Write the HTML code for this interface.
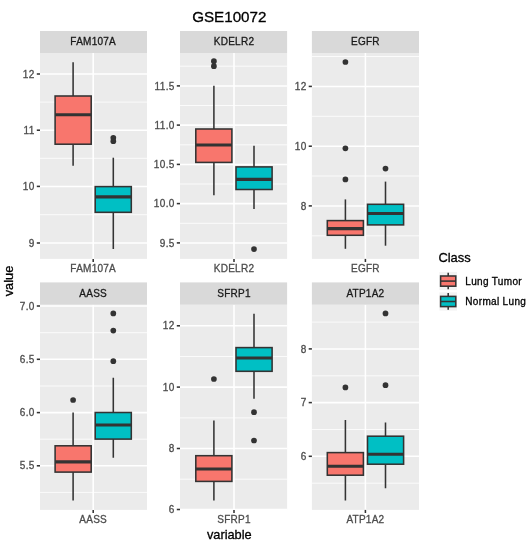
<!DOCTYPE html>
<html lang="en"><head><meta charset="utf-8"><title>GSE10072</title>
<style>html,body{margin:0;padding:0;background:#fff}svg{display:block}text{stroke-width:.3px}.k{stroke:#000}.g{stroke:#4D4D4D}.s{stroke:#1A1A1A}</style></head>
<body>
<svg width="531" height="550" viewBox="0 0 531 550" font-family="Liberation Sans, Arial, sans-serif">
<rect width="531" height="550" fill="#fff"/>
<text x="229.3" y="21.6" font-size="15.2" text-anchor="middle" fill="#000" class="k">GSE10072</text>
<g>
<rect x="40.0" y="31.0" width="107.0" height="22.0" fill="#D9D9D9"/>
<text x="93.2" y="45.2" font-size="10.0" letter-spacing="0.25" text-anchor="middle" fill="#1A1A1A" class="s">FAM107A</text>
<rect x="40.0" y="53.0" width="107.0" height="205.9" fill="#EBEBEB"/>
<clipPath id="c0"><rect x="40.0" y="53.0" width="107.0" height="205.9"/></clipPath>
<g clip-path="url(#c0)">
<line x1="40.0" x2="147.0" y1="102.1" y2="102.1" stroke="#fff" stroke-width="0.8"/>
<line x1="40.0" x2="147.0" y1="158.3" y2="158.3" stroke="#fff" stroke-width="0.8"/>
<line x1="40.0" x2="147.0" y1="214.7" y2="214.7" stroke="#fff" stroke-width="0.8"/>
<line x1="40.0" x2="147.0" y1="74" y2="74" stroke="#fff" stroke-width="1.55"/>
<line x1="40.0" x2="147.0" y1="130.2" y2="130.2" stroke="#fff" stroke-width="1.55"/>
<line x1="40.0" x2="147.0" y1="186.4" y2="186.4" stroke="#fff" stroke-width="1.55"/>
<line x1="40.0" x2="147.0" y1="243.0" y2="243.0" stroke="#fff" stroke-width="1.55"/>
<line x1="93.2" x2="93.2" y1="53.0" y2="258.9" stroke="#fff" stroke-width="1.55"/>
<line x1="73.1" x2="73.1" y1="62.2" y2="96" stroke="#333333" stroke-width="1.55"/>
<line x1="73.1" x2="73.1" y1="144.2" y2="165.8" stroke="#333333" stroke-width="1.55"/>
<rect x="55.1" y="96" width="36.1" height="48.2" fill="#F8766D" stroke="#333333" stroke-width="1.55" stroke-linejoin="miter"/>
<line x1="55.1" x2="91.2" y1="114.8" y2="114.8" stroke="#333333" stroke-width="3.1"/>
<circle cx="113.3" cy="137.8" r="2.85" fill="#333333"/>
<circle cx="113.3" cy="141.2" r="2.85" fill="#333333"/>
<line x1="113.3" x2="113.3" y1="157.7" y2="186.6" stroke="#333333" stroke-width="1.55"/>
<line x1="113.3" x2="113.3" y1="212.3" y2="249" stroke="#333333" stroke-width="1.55"/>
<rect x="95.2" y="186.6" width="36.1" height="25.7" fill="#00BFC4" stroke="#333333" stroke-width="1.55" stroke-linejoin="miter"/>
<line x1="95.2" x2="131.3" y1="196.9" y2="196.9" stroke="#333333" stroke-width="3.1"/>
</g>
<line x1="36.8" x2="40.0" y1="74" y2="74" stroke="#333333" stroke-width="1.55"/>
<text x="34.7" y="77.6" font-size="10.0" letter-spacing="0.35" text-anchor="end" fill="#4D4D4D" class="g">12</text>
<line x1="36.8" x2="40.0" y1="130.2" y2="130.2" stroke="#333333" stroke-width="1.55"/>
<text x="34.7" y="133.8" font-size="10.0" letter-spacing="0.35" text-anchor="end" fill="#4D4D4D" class="g">11</text>
<line x1="36.8" x2="40.0" y1="186.4" y2="186.4" stroke="#333333" stroke-width="1.55"/>
<text x="34.7" y="190.0" font-size="10.0" letter-spacing="0.35" text-anchor="end" fill="#4D4D4D" class="g">10</text>
<line x1="36.8" x2="40.0" y1="243.0" y2="243.0" stroke="#333333" stroke-width="1.55"/>
<text x="34.7" y="246.6" font-size="10.0" letter-spacing="0.35" text-anchor="end" fill="#4D4D4D" class="g">9</text>
<line x1="93.2" x2="93.2" y1="258.9" y2="262.0" stroke="#333333" stroke-width="1.55"/>
<text x="93.2" y="272.1" font-size="10.0" letter-spacing="0.25" text-anchor="middle" fill="#4D4D4D" class="g">FAM107A</text>
</g>
<g>
<rect x="180.0" y="31.0" width="107.1" height="22.0" fill="#D9D9D9"/>
<text x="234.0" y="45.2" font-size="10.0" letter-spacing="0.25" text-anchor="middle" fill="#1A1A1A" class="s">KDELR2</text>
<rect x="180.0" y="53.0" width="107.1" height="205.9" fill="#EBEBEB"/>
<clipPath id="c1"><rect x="180.0" y="53.0" width="107.1" height="205.9"/></clipPath>
<g clip-path="url(#c1)">
<line x1="180.0" x2="287.1" y1="66.2" y2="66.2" stroke="#fff" stroke-width="0.8"/>
<line x1="180.0" x2="287.1" y1="105.5" y2="105.5" stroke="#fff" stroke-width="0.8"/>
<line x1="180.0" x2="287.1" y1="144.8" y2="144.8" stroke="#fff" stroke-width="0.8"/>
<line x1="180.0" x2="287.1" y1="184" y2="184" stroke="#fff" stroke-width="0.8"/>
<line x1="180.0" x2="287.1" y1="223.3" y2="223.3" stroke="#fff" stroke-width="0.8"/>
<line x1="180.0" x2="287.1" y1="85.9" y2="85.9" stroke="#fff" stroke-width="1.55"/>
<line x1="180.0" x2="287.1" y1="125.1" y2="125.1" stroke="#fff" stroke-width="1.55"/>
<line x1="180.0" x2="287.1" y1="164.4" y2="164.4" stroke="#fff" stroke-width="1.55"/>
<line x1="180.0" x2="287.1" y1="203.6" y2="203.6" stroke="#fff" stroke-width="1.55"/>
<line x1="180.0" x2="287.1" y1="242.9" y2="242.9" stroke="#fff" stroke-width="1.55"/>
<line x1="234.0" x2="234.0" y1="53.0" y2="258.9" stroke="#fff" stroke-width="1.55"/>
<circle cx="213.9" cy="61.2" r="2.85" fill="#333333"/>
<circle cx="213.9" cy="66.2" r="2.85" fill="#333333"/>
<line x1="213.9" x2="213.9" y1="85.7" y2="129" stroke="#333333" stroke-width="1.55"/>
<line x1="213.9" x2="213.9" y1="162.4" y2="195.2" stroke="#333333" stroke-width="1.55"/>
<rect x="195.8" y="129" width="36.1" height="33.4" fill="#F8766D" stroke="#333333" stroke-width="1.55" stroke-linejoin="miter"/>
<line x1="195.8" x2="231.9" y1="145" y2="145" stroke="#333333" stroke-width="3.1"/>
<circle cx="254.0" cy="249.1" r="2.85" fill="#333333"/>
<line x1="254.0" x2="254.0" y1="145.7" y2="166.9" stroke="#333333" stroke-width="1.55"/>
<line x1="254.0" x2="254.0" y1="189.5" y2="209" stroke="#333333" stroke-width="1.55"/>
<rect x="236.0" y="166.9" width="36.1" height="22.6" fill="#00BFC4" stroke="#333333" stroke-width="1.55" stroke-linejoin="miter"/>
<line x1="236.0" x2="272.1" y1="179.4" y2="179.4" stroke="#333333" stroke-width="3.1"/>
</g>
<line x1="176.8" x2="180.0" y1="85.9" y2="85.9" stroke="#333333" stroke-width="1.55"/>
<text x="174.7" y="89.5" font-size="10.0" letter-spacing="0.35" text-anchor="end" fill="#4D4D4D" class="g">11.5</text>
<line x1="176.8" x2="180.0" y1="125.1" y2="125.1" stroke="#333333" stroke-width="1.55"/>
<text x="174.7" y="128.7" font-size="10.0" letter-spacing="0.35" text-anchor="end" fill="#4D4D4D" class="g">11.0</text>
<line x1="176.8" x2="180.0" y1="164.4" y2="164.4" stroke="#333333" stroke-width="1.55"/>
<text x="174.7" y="168.0" font-size="10.0" letter-spacing="0.35" text-anchor="end" fill="#4D4D4D" class="g">10.5</text>
<line x1="176.8" x2="180.0" y1="203.6" y2="203.6" stroke="#333333" stroke-width="1.55"/>
<text x="174.7" y="207.2" font-size="10.0" letter-spacing="0.35" text-anchor="end" fill="#4D4D4D" class="g">10.0</text>
<line x1="176.8" x2="180.0" y1="242.9" y2="242.9" stroke="#333333" stroke-width="1.55"/>
<text x="174.7" y="246.5" font-size="10.0" letter-spacing="0.35" text-anchor="end" fill="#4D4D4D" class="g">9.5</text>
<line x1="234.0" x2="234.0" y1="258.9" y2="262.0" stroke="#333333" stroke-width="1.55"/>
<text x="234.0" y="272.1" font-size="10.0" letter-spacing="0.25" text-anchor="middle" fill="#4D4D4D" class="g">KDELR2</text>
</g>
<g>
<rect x="311.9" y="31.0" width="107.1" height="22.0" fill="#D9D9D9"/>
<text x="365.4" y="45.2" font-size="10.0" letter-spacing="0.25" text-anchor="middle" fill="#1A1A1A" class="s">EGFR</text>
<rect x="311.9" y="53.0" width="107.1" height="205.9" fill="#EBEBEB"/>
<clipPath id="c2"><rect x="311.9" y="53.0" width="107.1" height="205.9"/></clipPath>
<g clip-path="url(#c2)">
<line x1="311.9" x2="419.0" y1="56.5" y2="56.5" stroke="#fff" stroke-width="0.8"/>
<line x1="311.9" x2="419.0" y1="116.3" y2="116.3" stroke="#fff" stroke-width="0.8"/>
<line x1="311.9" x2="419.0" y1="176" y2="176" stroke="#fff" stroke-width="0.8"/>
<line x1="311.9" x2="419.0" y1="235.8" y2="235.8" stroke="#fff" stroke-width="0.8"/>
<line x1="311.9" x2="419.0" y1="86.4" y2="86.4" stroke="#fff" stroke-width="1.55"/>
<line x1="311.9" x2="419.0" y1="146.2" y2="146.2" stroke="#fff" stroke-width="1.55"/>
<line x1="311.9" x2="419.0" y1="205.9" y2="205.9" stroke="#fff" stroke-width="1.55"/>
<line x1="365.4" x2="365.4" y1="53.0" y2="258.9" stroke="#fff" stroke-width="1.55"/>
<circle cx="345.4" cy="62" r="2.85" fill="#333333"/>
<circle cx="345.4" cy="148.3" r="2.85" fill="#333333"/>
<circle cx="345.4" cy="179.4" r="2.85" fill="#333333"/>
<line x1="345.4" x2="345.4" y1="199.4" y2="220.6" stroke="#333333" stroke-width="1.55"/>
<line x1="345.4" x2="345.4" y1="235.3" y2="248.8" stroke="#333333" stroke-width="1.55"/>
<rect x="327.3" y="220.6" width="36.1" height="14.7" fill="#F8766D" stroke="#333333" stroke-width="1.55" stroke-linejoin="miter"/>
<line x1="327.3" x2="363.4" y1="228.6" y2="228.6" stroke="#333333" stroke-width="3.1"/>
<circle cx="385.5" cy="168.6" r="2.85" fill="#333333"/>
<line x1="385.5" x2="385.5" y1="181.6" y2="204.3" stroke="#333333" stroke-width="1.55"/>
<line x1="385.5" x2="385.5" y1="224.9" y2="245.7" stroke="#333333" stroke-width="1.55"/>
<rect x="367.5" y="204.3" width="36.1" height="20.6" fill="#00BFC4" stroke="#333333" stroke-width="1.55" stroke-linejoin="miter"/>
<line x1="367.5" x2="403.6" y1="213.5" y2="213.5" stroke="#333333" stroke-width="3.1"/>
</g>
<line x1="308.7" x2="311.9" y1="86.4" y2="86.4" stroke="#333333" stroke-width="1.55"/>
<text x="306.6" y="90.0" font-size="10.0" letter-spacing="0.35" text-anchor="end" fill="#4D4D4D" class="g">12</text>
<line x1="308.7" x2="311.9" y1="146.2" y2="146.2" stroke="#333333" stroke-width="1.55"/>
<text x="306.6" y="149.8" font-size="10.0" letter-spacing="0.35" text-anchor="end" fill="#4D4D4D" class="g">10</text>
<line x1="308.7" x2="311.9" y1="205.9" y2="205.9" stroke="#333333" stroke-width="1.55"/>
<text x="306.6" y="209.5" font-size="10.0" letter-spacing="0.35" text-anchor="end" fill="#4D4D4D" class="g">8</text>
<line x1="365.4" x2="365.4" y1="258.9" y2="262.0" stroke="#333333" stroke-width="1.55"/>
<text x="365.4" y="272.1" font-size="10.0" letter-spacing="0.25" text-anchor="middle" fill="#4D4D4D" class="g">EGFR</text>
</g>
<g>
<rect x="40.0" y="282.4" width="107.0" height="22.4" fill="#D9D9D9"/>
<text x="93.2" y="296.6" font-size="10.0" letter-spacing="0.25" text-anchor="middle" fill="#1A1A1A" class="s">AASS</text>
<rect x="40.0" y="304.8" width="107.0" height="205.1" fill="#EBEBEB"/>
<clipPath id="c3"><rect x="40.0" y="304.8" width="107.0" height="205.1"/></clipPath>
<g clip-path="url(#c3)">
<line x1="40.0" x2="147.0" y1="332.7" y2="332.7" stroke="#fff" stroke-width="0.8"/>
<line x1="40.0" x2="147.0" y1="386" y2="386" stroke="#fff" stroke-width="0.8"/>
<line x1="40.0" x2="147.0" y1="439.2" y2="439.2" stroke="#fff" stroke-width="0.8"/>
<line x1="40.0" x2="147.0" y1="492.4" y2="492.4" stroke="#fff" stroke-width="0.8"/>
<line x1="40.0" x2="147.0" y1="306.0" y2="306.0" stroke="#fff" stroke-width="1.55"/>
<line x1="40.0" x2="147.0" y1="359.3" y2="359.3" stroke="#fff" stroke-width="1.55"/>
<line x1="40.0" x2="147.0" y1="412.6" y2="412.6" stroke="#fff" stroke-width="1.55"/>
<line x1="40.0" x2="147.0" y1="465.8" y2="465.8" stroke="#fff" stroke-width="1.55"/>
<line x1="93.2" x2="93.2" y1="304.8" y2="509.9" stroke="#fff" stroke-width="1.55"/>
<circle cx="73.1" cy="400" r="2.85" fill="#333333"/>
<line x1="73.1" x2="73.1" y1="412.5" y2="445.8" stroke="#333333" stroke-width="1.55"/>
<line x1="73.1" x2="73.1" y1="472.1" y2="500.4" stroke="#333333" stroke-width="1.55"/>
<rect x="55.1" y="445.8" width="36.1" height="26.3" fill="#F8766D" stroke="#333333" stroke-width="1.55" stroke-linejoin="miter"/>
<line x1="55.1" x2="91.2" y1="461.9" y2="461.9" stroke="#333333" stroke-width="3.1"/>
<circle cx="113.3" cy="313.4" r="2.85" fill="#333333"/>
<circle cx="113.3" cy="330.6" r="2.85" fill="#333333"/>
<circle cx="113.3" cy="361.2" r="2.85" fill="#333333"/>
<line x1="113.3" x2="113.3" y1="377.8" y2="412.5" stroke="#333333" stroke-width="1.55"/>
<line x1="113.3" x2="113.3" y1="439.1" y2="457.7" stroke="#333333" stroke-width="1.55"/>
<rect x="95.2" y="412.5" width="36.1" height="26.6" fill="#00BFC4" stroke="#333333" stroke-width="1.55" stroke-linejoin="miter"/>
<line x1="95.2" x2="131.3" y1="425.0" y2="425.0" stroke="#333333" stroke-width="3.1"/>
</g>
<line x1="36.8" x2="40.0" y1="306.0" y2="306.0" stroke="#333333" stroke-width="1.55"/>
<text x="34.7" y="309.6" font-size="10.0" letter-spacing="0.35" text-anchor="end" fill="#4D4D4D" class="g">7.0</text>
<line x1="36.8" x2="40.0" y1="359.3" y2="359.3" stroke="#333333" stroke-width="1.55"/>
<text x="34.7" y="362.9" font-size="10.0" letter-spacing="0.35" text-anchor="end" fill="#4D4D4D" class="g">6.5</text>
<line x1="36.8" x2="40.0" y1="412.6" y2="412.6" stroke="#333333" stroke-width="1.55"/>
<text x="34.7" y="416.2" font-size="10.0" letter-spacing="0.35" text-anchor="end" fill="#4D4D4D" class="g">6.0</text>
<line x1="36.8" x2="40.0" y1="465.8" y2="465.8" stroke="#333333" stroke-width="1.55"/>
<text x="34.7" y="469.4" font-size="10.0" letter-spacing="0.35" text-anchor="end" fill="#4D4D4D" class="g">5.5</text>
<line x1="93.2" x2="93.2" y1="509.9" y2="513.0" stroke="#333333" stroke-width="1.55"/>
<text x="93.2" y="523.1" font-size="10.0" letter-spacing="0.25" text-anchor="middle" fill="#4D4D4D" class="g">AASS</text>
</g>
<g>
<rect x="180.0" y="282.4" width="107.1" height="22.4" fill="#D9D9D9"/>
<text x="234.0" y="296.6" font-size="10.0" letter-spacing="0.25" text-anchor="middle" fill="#1A1A1A" class="s">SFRP1</text>
<rect x="180.0" y="304.8" width="107.1" height="205.1" fill="#EBEBEB"/>
<clipPath id="c4"><rect x="180.0" y="304.8" width="107.1" height="205.1"/></clipPath>
<g clip-path="url(#c4)">
<line x1="180.0" x2="287.1" y1="356.5" y2="356.5" stroke="#fff" stroke-width="0.8"/>
<line x1="180.0" x2="287.1" y1="417.9" y2="417.9" stroke="#fff" stroke-width="0.8"/>
<line x1="180.0" x2="287.1" y1="479.2" y2="479.2" stroke="#fff" stroke-width="0.8"/>
<line x1="180.0" x2="287.1" y1="325.8" y2="325.8" stroke="#fff" stroke-width="1.55"/>
<line x1="180.0" x2="287.1" y1="387.1" y2="387.1" stroke="#fff" stroke-width="1.55"/>
<line x1="180.0" x2="287.1" y1="448.5" y2="448.5" stroke="#fff" stroke-width="1.55"/>
<line x1="180.0" x2="287.1" y1="509.5" y2="509.5" stroke="#fff" stroke-width="1.55"/>
<line x1="234.0" x2="234.0" y1="304.8" y2="509.9" stroke="#fff" stroke-width="1.55"/>
<circle cx="213.9" cy="379" r="2.85" fill="#333333"/>
<line x1="213.9" x2="213.9" y1="420.4" y2="455.7" stroke="#333333" stroke-width="1.55"/>
<line x1="213.9" x2="213.9" y1="481.4" y2="500.4" stroke="#333333" stroke-width="1.55"/>
<rect x="195.8" y="455.7" width="36.1" height="25.7" fill="#F8766D" stroke="#333333" stroke-width="1.55" stroke-linejoin="miter"/>
<line x1="195.8" x2="231.9" y1="469" y2="469" stroke="#333333" stroke-width="3.1"/>
<circle cx="254.0" cy="412.2" r="2.85" fill="#333333"/>
<circle cx="254.0" cy="440.5" r="2.85" fill="#333333"/>
<line x1="254.0" x2="254.0" y1="313.7" y2="347.6" stroke="#333333" stroke-width="1.55"/>
<line x1="254.0" x2="254.0" y1="371.3" y2="398.7" stroke="#333333" stroke-width="1.55"/>
<rect x="236.0" y="347.6" width="36.1" height="23.7" fill="#00BFC4" stroke="#333333" stroke-width="1.55" stroke-linejoin="miter"/>
<line x1="236.0" x2="272.1" y1="358" y2="358" stroke="#333333" stroke-width="3.1"/>
</g>
<line x1="176.8" x2="180.0" y1="325.8" y2="325.8" stroke="#333333" stroke-width="1.55"/>
<text x="174.7" y="329.4" font-size="10.0" letter-spacing="0.35" text-anchor="end" fill="#4D4D4D" class="g">12</text>
<line x1="176.8" x2="180.0" y1="387.1" y2="387.1" stroke="#333333" stroke-width="1.55"/>
<text x="174.7" y="390.7" font-size="10.0" letter-spacing="0.35" text-anchor="end" fill="#4D4D4D" class="g">10</text>
<line x1="176.8" x2="180.0" y1="448.5" y2="448.5" stroke="#333333" stroke-width="1.55"/>
<text x="174.7" y="452.1" font-size="10.0" letter-spacing="0.35" text-anchor="end" fill="#4D4D4D" class="g">8</text>
<line x1="176.8" x2="180.0" y1="509.5" y2="509.5" stroke="#333333" stroke-width="1.55"/>
<text x="174.7" y="513.1" font-size="10.0" letter-spacing="0.35" text-anchor="end" fill="#4D4D4D" class="g">6</text>
<line x1="234.0" x2="234.0" y1="509.9" y2="513.0" stroke="#333333" stroke-width="1.55"/>
<text x="234.0" y="523.1" font-size="10.0" letter-spacing="0.25" text-anchor="middle" fill="#4D4D4D" class="g">SFRP1</text>
</g>
<g>
<rect x="311.9" y="282.4" width="107.1" height="22.4" fill="#D9D9D9"/>
<text x="365.4" y="296.6" font-size="10.0" letter-spacing="0.25" text-anchor="middle" fill="#1A1A1A" class="s">ATP1A2</text>
<rect x="311.9" y="304.8" width="107.1" height="205.1" fill="#EBEBEB"/>
<clipPath id="c5"><rect x="311.9" y="304.8" width="107.1" height="205.1"/></clipPath>
<g clip-path="url(#c5)">
<line x1="311.9" x2="419.0" y1="322.1" y2="322.1" stroke="#fff" stroke-width="0.8"/>
<line x1="311.9" x2="419.0" y1="375.8" y2="375.8" stroke="#fff" stroke-width="0.8"/>
<line x1="311.9" x2="419.0" y1="429.5" y2="429.5" stroke="#fff" stroke-width="0.8"/>
<line x1="311.9" x2="419.0" y1="483.2" y2="483.2" stroke="#fff" stroke-width="0.8"/>
<line x1="311.9" x2="419.0" y1="348.9" y2="348.9" stroke="#fff" stroke-width="1.55"/>
<line x1="311.9" x2="419.0" y1="402.6" y2="402.6" stroke="#fff" stroke-width="1.55"/>
<line x1="311.9" x2="419.0" y1="456.3" y2="456.3" stroke="#fff" stroke-width="1.55"/>
<line x1="365.4" x2="365.4" y1="304.8" y2="509.9" stroke="#fff" stroke-width="1.55"/>
<circle cx="345.4" cy="387.4" r="2.85" fill="#333333"/>
<line x1="345.4" x2="345.4" y1="419.9" y2="452.6" stroke="#333333" stroke-width="1.55"/>
<line x1="345.4" x2="345.4" y1="475.2" y2="500.6" stroke="#333333" stroke-width="1.55"/>
<rect x="327.3" y="452.6" width="36.1" height="22.6" fill="#F8766D" stroke="#333333" stroke-width="1.55" stroke-linejoin="miter"/>
<line x1="327.3" x2="363.4" y1="466.2" y2="466.2" stroke="#333333" stroke-width="3.1"/>
<circle cx="385.5" cy="313.4" r="2.85" fill="#333333"/>
<circle cx="385.5" cy="385.2" r="2.85" fill="#333333"/>
<line x1="385.5" x2="385.5" y1="422.4" y2="436.2" stroke="#333333" stroke-width="1.55"/>
<line x1="385.5" x2="385.5" y1="464.2" y2="488.2" stroke="#333333" stroke-width="1.55"/>
<rect x="367.5" y="436.2" width="36.1" height="28.0" fill="#00BFC4" stroke="#333333" stroke-width="1.55" stroke-linejoin="miter"/>
<line x1="367.5" x2="403.6" y1="454.3" y2="454.3" stroke="#333333" stroke-width="3.1"/>
</g>
<line x1="308.7" x2="311.9" y1="348.9" y2="348.9" stroke="#333333" stroke-width="1.55"/>
<text x="306.6" y="352.5" font-size="10.0" letter-spacing="0.35" text-anchor="end" fill="#4D4D4D" class="g">8</text>
<line x1="308.7" x2="311.9" y1="402.6" y2="402.6" stroke="#333333" stroke-width="1.55"/>
<text x="306.6" y="406.2" font-size="10.0" letter-spacing="0.35" text-anchor="end" fill="#4D4D4D" class="g">7</text>
<line x1="308.7" x2="311.9" y1="456.3" y2="456.3" stroke="#333333" stroke-width="1.55"/>
<text x="306.6" y="459.9" font-size="10.0" letter-spacing="0.35" text-anchor="end" fill="#4D4D4D" class="g">6</text>
<line x1="365.4" x2="365.4" y1="509.9" y2="513.0" stroke="#333333" stroke-width="1.55"/>
<text x="365.4" y="523.1" font-size="10.0" letter-spacing="0.25" text-anchor="middle" fill="#4D4D4D" class="g">ATP1A2</text>
</g>
<text x="229.3" y="539.4" font-size="12.8" text-anchor="middle" fill="#000" class="k">variable</text>
<text transform="translate(13.3,281) rotate(-90)" font-size="12.8" text-anchor="middle" fill="#000" class="k">value</text>
<text x="438.4" y="262" font-size="12.9" fill="#000" class="k">Class</text>
<rect x="439.4" y="271.9" width="17.6" height="18.2" fill="#F2F2F2"/>
<line x1="448.2" x2="448.2" y1="272.7" y2="289.3" stroke="#333333" stroke-width="1.55"/>
<rect x="440.6" y="276.0" width="15.2" height="10.2" fill="#F8766D" stroke="#333333" stroke-width="1.55"/>
<line x1="440.6" x2="455.8" y1="281.1" y2="281.1" stroke="#333333" stroke-width="1.55"/>
<text x="465.3" y="284.7" font-size="10.0" letter-spacing="0.33" fill="#000" class="k">Lung Tumor</text>
<rect x="439.4" y="292.3" width="17.6" height="18.2" fill="#F2F2F2"/>
<line x1="448.2" x2="448.2" y1="293.1" y2="309.7" stroke="#333333" stroke-width="1.55"/>
<rect x="440.6" y="296.4" width="15.2" height="10.2" fill="#00BFC4" stroke="#333333" stroke-width="1.55"/>
<line x1="440.6" x2="455.8" y1="301.5" y2="301.5" stroke="#333333" stroke-width="1.55"/>
<text x="465.3" y="305.1" font-size="10.0" letter-spacing="0.33" fill="#000" class="k">Normal Lung</text>
</svg>
</body></html>
